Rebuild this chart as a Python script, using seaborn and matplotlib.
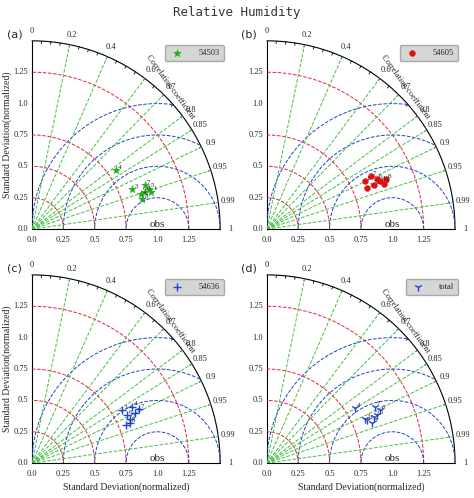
import numpy as np
import pandas as pd
import matplotlib
matplotlib.use("Agg")
import matplotlib.pyplot as plt
import seaborn as sns

sns.set_style("white")
plt.rcParams['font.family'] = ['Liberation Serif', 'DejaVu Serif']

panels = ["(a)", "(b)", "(c)", "(d)"]
stations = ["54503", "54605", "54636", "total"]
std_a = [0.996, 0.914, 0.862, 0.818, 0.984, 0.949, 0.966, 0.912]
cor_a = [0.954, 0.952, 0.928, 0.819, 0.945, 0.949, 0.932, 0.965]
std_b = [0.868, 0.919, 0.865, 0.977, 0.997, 0.967, 0.930, 1.031]
cor_b = [0.899, 0.925, 0.925, 0.921, 0.933, 0.910, 0.892, 0.922]
std_c = [0.834, 0.855, 0.808, 0.918, 0.912, 0.850, 0.953, 0.843]
cor_c = [0.864, 0.912, 0.928, 0.872, 0.899, 0.894, 0.892, 0.925]
std_d = [0.869, 0.927, 0.855, 0.827, 0.959, 0.993, 0.971, 0.899]
cor_d = [0.920, 0.917, 0.912, 0.847, 0.918, 0.906, 0.886, 0.934]
labels = ["1", "2", "3", "4", "5", "6", "7", "8"]
corr_ticks = [0.2, 0.4, 0.6, 0.7, 0.8, 0.85, 0.9, 0.95, 0.99]
std_ticks = [0.0, 0.25, 0.5, 0.75, 1.0, 1.25]
markers = ["*", "o", "+", "1"]
colors = ["#22aa22", "#e01010", "#2244dd", "#2244dd"]
data = [(std_a, cor_a), (std_b, cor_b), (std_c, cor_c), (std_d, cor_d)]

fig = plt.figure(figsize=(4.74, 4.98), dpi=100)
fig.text(0.5, 0.975, "Relative Humidity", ha="center", va="center",
         fontsize=9, family="DejaVu Sans Mono", color="#333")
pos = [(0.0675, 0.540), (0.563, 0.540), (0.0675, 0.070), (0.563, 0.070)]
W, H = 0.397, 0.378
R = 1.5
th = np.linspace(0, np.pi / 2, 200)

for i in range(4):
    ax = fig.add_axes([pos[i][0], pos[i][1], W, H])
    ax.set_xlim(0, R); ax.set_ylim(0, R)
    for s in ax.spines.values():
        s.set_visible(False)
    ax.set_xticks([]); ax.set_yticks([])
    ax.plot([0, R], [0, 0], color="k", lw=0.8, clip_on=False)
    ax.plot([0, 0], [0, R], color="k", lw=0.8, clip_on=False)
    ax.plot(R * np.cos(th), R * np.sin(th), color="k", lw=0.8, clip_on=False)
    for c in np.arange(0.05, 1.0, 0.05):
        a = np.arccos(c)
        ax.plot([R * np.cos(a), 1.48 * np.cos(a)], [R * np.sin(a), 1.48 * np.sin(a)],
                color="k", lw=0.6)
    for r in [0.25, 0.5, 0.75, 1.25]:
        ax.plot(r * np.cos(th), r * np.sin(th), color="#e8203a", lw=0.7, ls="--")
    for r in [0.25, 0.5, 0.75, 1.0]:
        t = np.linspace(0, np.pi, 300)
        x = 1 + r * np.cos(t); y = r * np.sin(t)
        m = x ** 2 + y ** 2 <= R ** 2
        ax.plot(x[m], y[m], color="#2040d0", lw=0.7, ls="--")
    for c in corr_ticks:
        a = np.arccos(c)
        ax.plot([0, R * np.cos(a)], [0, R * np.sin(a)], color="#40c040", lw=0.7, ls="--")
        ax.text(1.58 * np.cos(a), 1.58 * np.sin(a), f"{c:g}", fontsize=6,
                ha="center", va="center")
    ax.text(0.0, 1.58, "0", fontsize=6, ha="center", va="center")
    ax.text(1.58, 0.0, "1", fontsize=6, ha="center", va="center")
    for v in std_ticks:
        lab = f"{v:g}" if v not in (0.0, 1.0) else f"{v:.1f}"
        ax.text(v, -0.09, lab, fontsize=6, ha="center", va="center")
        ax.text(-0.03, v, lab, fontsize=6, ha="right", va="center")
    ax.text(1.0, 0.04, "obs", fontsize=8, ha="center", va="center")
    ax.text(1.1, 1.13, "Correlation coefficient", fontsize=6, rotation=-54,
            ha="center", va="center")
    ax.text(-0.14, 1.55, panels[i], fontsize=8, family="DejaVu Sans",
            ha="center", va="center")
    if i in (0, 2):
        ax.text(-0.2, 0.75, "Standard Deviation(normalized)", fontsize=7,
                rotation=90, ha="center", va="center")
    if i in (2, 3):
        ax.text(0.75, -0.19, "Standard Deviation(normalized)", fontsize=7,
                ha="center", va="center")
    std, cor = data[i]
    df = pd.DataFrame({"x": np.array(std) * np.array(cor),
                       "y": np.array(std) * np.sin(np.arccos(cor)),
                       "lab": labels})
    sns.scatterplot(data=df, x="x", y="y", ax=ax, marker=markers[i], color=colors[i],
                    s=35 if i != 1 else 18, linewidth=1 if i in (2, 3) else 0.3,
                    edgecolor=colors[i] if i in (0, 1) else None, label=stations[i], zorder=5)
    for _, r in df.iterrows():
        ax.text(r.x + 0.015, r.y + 0.01, r.lab, fontsize=5, zorder=6)
    ax.set_xlabel(""); ax.set_ylabel("")
    ax.legend(loc="upper right", bbox_to_anchor=(1.04, 1.0), fontsize=6,
              frameon=True, facecolor="#c8ccc8", edgecolor="#999",
              handletextpad=1.5, borderpad=0.5)
    ax.set_xlim(0, R); ax.set_ylim(0, R)

fig.savefig("out.png", dpi=100)
